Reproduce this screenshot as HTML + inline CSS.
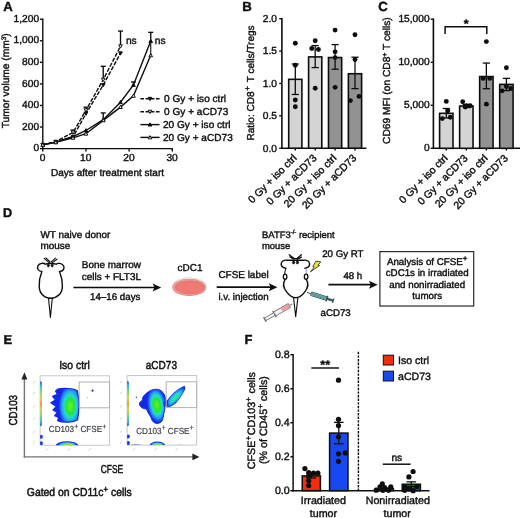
<!DOCTYPE html>
<html lang="en"><head><meta charset="utf-8"><title>Figure</title>
<style>
html,body{margin:0;padding:0;background:#fff;}
svg{display:block;font-family:"Liberation Sans",sans-serif;text-rendering:geometricPrecision;}
text{stroke:#0f0f0f;stroke-width:0.4px;paint-order:stroke;}
</style></head><body>
<svg width="520" height="518" viewBox="0 0 520 518">
<defs><filter id="soft" x="0" y="0" width="520" height="518" filterUnits="userSpaceOnUse"><feGaussianBlur stdDeviation="0.35"/></filter></defs>
<rect width="520" height="518" fill="#ffffff"/>
<g filter="url(#soft)">
<text x="3.20" y="10.60" font-size="13.2" text-anchor="start" font-weight="bold" fill="#0f0f0f" >A</text>
<text x="242.20" y="10.70" font-size="13.2" text-anchor="start" font-weight="bold" fill="#0f0f0f" >B</text>
<text x="378.20" y="10.60" font-size="13.2" text-anchor="start" font-weight="bold" fill="#0f0f0f" >C</text>
<text x="3.10" y="217.20" font-size="12.7" text-anchor="start" font-weight="bold" fill="#0f0f0f" >D</text>
<text x="3.50" y="344.10" font-size="12.9" text-anchor="start" font-weight="bold" fill="#0f0f0f" >E</text>
<text x="244.40" y="344.10" font-size="13.0" text-anchor="start" font-weight="bold" fill="#0f0f0f" >F</text>
<line x1="42.80" y1="18.60" x2="42.80" y2="149.20" stroke="#0f0f0f" stroke-width="1.4" />
<line x1="42.20" y1="148.60" x2="172.91" y2="148.60" stroke="#0f0f0f" stroke-width="1.4" />
<line x1="39.90" y1="148.60" x2="42.80" y2="148.60" stroke="#0f0f0f" stroke-width="1.4" />
<text x="39.10" y="151.30" font-size="10.2" text-anchor="end" font-weight="normal" fill="#0f0f0f" >0</text>
<line x1="39.90" y1="127.03" x2="42.80" y2="127.03" stroke="#0f0f0f" stroke-width="1.4" />
<text x="39.10" y="129.70" font-size="10.2" text-anchor="end" font-weight="normal" fill="#0f0f0f" >200</text>
<line x1="39.90" y1="105.47" x2="42.80" y2="105.47" stroke="#0f0f0f" stroke-width="1.4" />
<text x="39.10" y="108.10" font-size="10.2" text-anchor="end" font-weight="normal" fill="#0f0f0f" >400</text>
<line x1="39.90" y1="83.90" x2="42.80" y2="83.90" stroke="#0f0f0f" stroke-width="1.4" />
<text x="39.10" y="86.50" font-size="10.2" text-anchor="end" font-weight="normal" fill="#0f0f0f" >600</text>
<line x1="39.90" y1="62.34" x2="42.80" y2="62.34" stroke="#0f0f0f" stroke-width="1.4" />
<text x="39.10" y="64.90" font-size="10.2" text-anchor="end" font-weight="normal" fill="#0f0f0f" >800</text>
<line x1="39.90" y1="40.77" x2="42.80" y2="40.77" stroke="#0f0f0f" stroke-width="1.4" />
<text x="39.10" y="43.30" font-size="10.2" text-anchor="end" font-weight="normal" fill="#0f0f0f" >1,000</text>
<line x1="39.90" y1="19.20" x2="42.80" y2="19.20" stroke="#0f0f0f" stroke-width="1.4" />
<text x="39.10" y="21.70" font-size="10.2" text-anchor="end" font-weight="normal" fill="#0f0f0f" >1,200</text>
<line x1="42.80" y1="148.60" x2="42.80" y2="151.50" stroke="#0f0f0f" stroke-width="1.4" />
<text x="42.60" y="160.90" font-size="10.2" text-anchor="middle" font-weight="normal" fill="#0f0f0f" >0</text>
<line x1="85.97" y1="148.60" x2="85.97" y2="151.50" stroke="#0f0f0f" stroke-width="1.4" />
<text x="85.77" y="160.90" font-size="10.2" text-anchor="middle" font-weight="normal" fill="#0f0f0f" >10</text>
<line x1="129.14" y1="148.60" x2="129.14" y2="151.50" stroke="#0f0f0f" stroke-width="1.4" />
<text x="128.94" y="160.90" font-size="10.2" text-anchor="middle" font-weight="normal" fill="#0f0f0f" >20</text>
<line x1="172.31" y1="148.60" x2="172.31" y2="151.50" stroke="#0f0f0f" stroke-width="1.4" />
<text x="172.11" y="160.90" font-size="10.2" text-anchor="middle" font-weight="normal" fill="#0f0f0f" >30</text>
<text x="107.55" y="175.50" font-size="10.03" text-anchor="middle" font-weight="normal" fill="#0f0f0f" >Days after treatment start</text>
<text transform="translate(9.35,80.80) rotate(-90)" font-size="10.2" text-anchor="middle" fill="#0f0f0f" >Tumor volume (mm<tspan dx="0" dy="-3.2" font-size="6.5">3</tspan><tspan dx="0" dy="3.2" font-size="1">&#8203;</tspan>)</text>
<polyline points="42.80,144.83 55.75,141.91 73.02,136.95 85.97,113.56 103.24,84.98 120.51,53.28" fill="none" stroke="#0f0f0f" stroke-width="1.4" stroke-dasharray="4.2 1.5"/>
<polyline points="42.80,144.83 55.75,141.70 73.02,132.43 85.97,110.21 103.24,79.59 120.51,46.27" fill="none" stroke="#0f0f0f" stroke-width="1.4" stroke-dasharray="4.2 1.5"/>
<polyline points="42.80,144.83 55.75,142.13 73.02,136.52 85.97,130.48 103.24,119.70 120.51,102.23 133.46,84.98 150.73,41.09" fill="none" stroke="#0f0f0f" stroke-width="1.4" />
<polyline points="42.80,144.83 55.75,142.35 73.02,137.82 85.97,133.72 103.24,120.35 120.51,107.09 133.46,95.87 150.73,55.33" fill="none" stroke="#0f0f0f" stroke-width="1.4" />
<path d="M41.00,143.39 L44.60,143.39 L42.80,146.63 Z" fill="#0f0f0f" stroke="#0f0f0f" stroke-width="1.0"/>
<path d="M53.95,140.47 L57.55,140.47 L55.75,143.71 Z" fill="#0f0f0f" stroke="#0f0f0f" stroke-width="1.0"/>
<path d="M71.22,135.51 L74.82,135.51 L73.02,138.75 Z" fill="#0f0f0f" stroke="#0f0f0f" stroke-width="1.0"/>
<path d="M84.17,112.12 L87.77,112.12 L85.97,115.36 Z" fill="#0f0f0f" stroke="#0f0f0f" stroke-width="1.0"/>
<path d="M101.44,83.54 L105.04,83.54 L103.24,86.78 Z" fill="#0f0f0f" stroke="#0f0f0f" stroke-width="1.0"/>
<path d="M118.71,51.84 L122.31,51.84 L120.51,55.08 Z" fill="#0f0f0f" stroke="#0f0f0f" stroke-width="1.0"/>
<line x1="73.02" y1="132.43" x2="73.02" y2="130.05" stroke="#0f0f0f" stroke-width="1.35" />
<line x1="70.52" y1="130.05" x2="75.52" y2="130.05" stroke="#0f0f0f" stroke-width="1.35" />
<line x1="85.97" y1="110.21" x2="85.97" y2="107.19" stroke="#0f0f0f" stroke-width="1.35" />
<line x1="83.47" y1="107.19" x2="88.47" y2="107.19" stroke="#0f0f0f" stroke-width="1.35" />
<line x1="103.24" y1="79.59" x2="103.24" y2="66.33" stroke="#0f0f0f" stroke-width="1.35" />
<line x1="100.74" y1="66.33" x2="105.74" y2="66.33" stroke="#0f0f0f" stroke-width="1.35" />
<line x1="120.51" y1="46.27" x2="120.51" y2="31.07" stroke="#0f0f0f" stroke-width="1.35" />
<line x1="118.01" y1="31.07" x2="123.01" y2="31.07" stroke="#0f0f0f" stroke-width="1.35" />
<path d="M41.00,143.39 L44.60,143.39 L42.80,146.63 Z" fill="#fff" stroke="#0f0f0f" stroke-width="1.0"/>
<path d="M53.95,140.26 L57.55,140.26 L55.75,143.50 Z" fill="#fff" stroke="#0f0f0f" stroke-width="1.0"/>
<path d="M71.22,130.99 L74.82,130.99 L73.02,134.23 Z" fill="#fff" stroke="#0f0f0f" stroke-width="1.0"/>
<path d="M84.17,108.77 L87.77,108.77 L85.97,112.01 Z" fill="#fff" stroke="#0f0f0f" stroke-width="1.0"/>
<path d="M101.44,78.15 L105.04,78.15 L103.24,81.39 Z" fill="#fff" stroke="#0f0f0f" stroke-width="1.0"/>
<path d="M118.71,44.83 L122.31,44.83 L120.51,48.07 Z" fill="#fff" stroke="#0f0f0f" stroke-width="1.0"/>
<line x1="103.24" y1="119.70" x2="103.24" y2="112.91" stroke="#0f0f0f" stroke-width="1.35" />
<line x1="100.74" y1="112.91" x2="105.74" y2="112.91" stroke="#0f0f0f" stroke-width="1.35" />
<line x1="133.46" y1="84.98" x2="133.46" y2="81.96" stroke="#0f0f0f" stroke-width="1.35" />
<line x1="130.96" y1="81.96" x2="135.96" y2="81.96" stroke="#0f0f0f" stroke-width="1.35" />
<line x1="150.73" y1="41.09" x2="150.73" y2="32.36" stroke="#0f0f0f" stroke-width="1.35" />
<line x1="148.23" y1="32.36" x2="153.23" y2="32.36" stroke="#0f0f0f" stroke-width="1.35" />
<path d="M41.00,146.27 L44.60,146.27 L42.80,143.03 Z" fill="#0f0f0f" stroke="#0f0f0f" stroke-width="1.0"/>
<path d="M53.95,143.57 L57.55,143.57 L55.75,140.33 Z" fill="#0f0f0f" stroke="#0f0f0f" stroke-width="1.0"/>
<path d="M71.22,137.96 L74.82,137.96 L73.02,134.72 Z" fill="#0f0f0f" stroke="#0f0f0f" stroke-width="1.0"/>
<path d="M84.17,131.92 L87.77,131.92 L85.97,128.68 Z" fill="#0f0f0f" stroke="#0f0f0f" stroke-width="1.0"/>
<path d="M101.44,121.14 L105.04,121.14 L103.24,117.90 Z" fill="#0f0f0f" stroke="#0f0f0f" stroke-width="1.0"/>
<path d="M118.71,103.67 L122.31,103.67 L120.51,100.43 Z" fill="#0f0f0f" stroke="#0f0f0f" stroke-width="1.0"/>
<path d="M131.66,86.42 L135.26,86.42 L133.46,83.18 Z" fill="#0f0f0f" stroke="#0f0f0f" stroke-width="1.0"/>
<path d="M148.93,42.53 L152.53,42.53 L150.73,39.29 Z" fill="#0f0f0f" stroke="#0f0f0f" stroke-width="1.0"/>
<path d="M41.00,146.27 L44.60,146.27 L42.80,143.03 Z" fill="#fff" stroke="#0f0f0f" stroke-width="1.0"/>
<path d="M53.95,143.79 L57.55,143.79 L55.75,140.55 Z" fill="#fff" stroke="#0f0f0f" stroke-width="1.0"/>
<path d="M71.22,139.26 L74.82,139.26 L73.02,136.02 Z" fill="#fff" stroke="#0f0f0f" stroke-width="1.0"/>
<path d="M84.17,135.16 L87.77,135.16 L85.97,131.92 Z" fill="#fff" stroke="#0f0f0f" stroke-width="1.0"/>
<path d="M101.44,121.79 L105.04,121.79 L103.24,118.55 Z" fill="#fff" stroke="#0f0f0f" stroke-width="1.0"/>
<path d="M118.71,108.53 L122.31,108.53 L120.51,105.29 Z" fill="#fff" stroke="#0f0f0f" stroke-width="1.0"/>
<path d="M131.66,97.31 L135.26,97.31 L133.46,94.07 Z" fill="#fff" stroke="#0f0f0f" stroke-width="1.0"/>
<path d="M148.93,56.77 L152.53,56.77 L150.73,53.53 Z" fill="#fff" stroke="#0f0f0f" stroke-width="1.0"/>
<line x1="150.73" y1="41.09" x2="150.73" y2="55.33" stroke="#0f0f0f" stroke-width="1.1" />
<text x="125.90" y="43.70" font-size="10.2" text-anchor="start" font-weight="normal" fill="#0f0f0f" >ns</text>
<text x="154.80" y="43.70" font-size="10.2" text-anchor="start" font-weight="normal" fill="#0f0f0f" >ns</text>
<line x1="140.40" y1="98.80" x2="159.60" y2="98.80" stroke="#0f0f0f" stroke-width="1.4" stroke-dasharray="3.6 1.6"/>
<path d="M148.20,97.36 L151.80,97.36 L150.00,100.60 Z" fill="#0f0f0f" stroke="#0f0f0f" stroke-width="1.0"/>
<text x="164.10" y="102.30" font-size="10.08" text-anchor="start" font-weight="normal" fill="#0f0f0f" >0 Gy + iso ctrl</text>
<line x1="140.40" y1="111.70" x2="159.60" y2="111.70" stroke="#0f0f0f" stroke-width="1.4" stroke-dasharray="3.6 1.6"/>
<path d="M148.20,110.26 L151.80,110.26 L150.00,113.50 Z" fill="#fff" stroke="#0f0f0f" stroke-width="1.0"/>
<text x="164.10" y="115.20" font-size="10.08" text-anchor="start" font-weight="normal" fill="#0f0f0f" >0 Gy + aCD73</text>
<line x1="140.40" y1="124.60" x2="159.60" y2="124.60" stroke="#0f0f0f" stroke-width="1.4" />
<path d="M148.20,126.04 L151.80,126.04 L150.00,122.80 Z" fill="#0f0f0f" stroke="#0f0f0f" stroke-width="1.0"/>
<text x="163.00" y="128.10" font-size="10.08" text-anchor="start" font-weight="normal" fill="#0f0f0f" >20 Gy + iso ctrl</text>
<line x1="140.40" y1="137.40" x2="159.60" y2="137.40" stroke="#0f0f0f" stroke-width="1.4" />
<path d="M148.20,138.84 L151.80,138.84 L150.00,135.60 Z" fill="#fff" stroke="#0f0f0f" stroke-width="1.0"/>
<text x="163.00" y="140.90" font-size="10.08" text-anchor="start" font-weight="normal" fill="#0f0f0f" >20 Gy + aCD73</text>
<line x1="281.90" y1="18.00" x2="281.90" y2="149.00" stroke="#0f0f0f" stroke-width="1.6" />
<line x1="281.10" y1="148.20" x2="366.50" y2="148.20" stroke="#0f0f0f" stroke-width="1.6" />
<line x1="279.20" y1="148.20" x2="281.90" y2="148.20" stroke="#0f0f0f" stroke-width="1.4" />
<text x="277.00" y="151.60" font-size="10.2" text-anchor="end" font-weight="normal" fill="#0f0f0f" >0.0</text>
<line x1="279.20" y1="115.82" x2="281.90" y2="115.82" stroke="#0f0f0f" stroke-width="1.4" />
<text x="277.00" y="119.22" font-size="10.2" text-anchor="end" font-weight="normal" fill="#0f0f0f" >0.5</text>
<line x1="279.20" y1="83.45" x2="281.90" y2="83.45" stroke="#0f0f0f" stroke-width="1.4" />
<text x="277.00" y="86.85" font-size="10.2" text-anchor="end" font-weight="normal" fill="#0f0f0f" >1.0</text>
<line x1="279.20" y1="51.07" x2="281.90" y2="51.07" stroke="#0f0f0f" stroke-width="1.4" />
<text x="277.00" y="54.47" font-size="10.2" text-anchor="end" font-weight="normal" fill="#0f0f0f" >1.5</text>
<line x1="279.20" y1="18.70" x2="281.90" y2="18.70" stroke="#0f0f0f" stroke-width="1.4" />
<text x="277.00" y="22.10" font-size="10.2" text-anchor="end" font-weight="normal" fill="#0f0f0f" >2.0</text>
<rect x="288.70" y="79.31" width="13.20" height="68.89" fill="#d4d4d4" stroke="#0f0f0f" stroke-width="1.6"/>
<line x1="295.30" y1="94.46" x2="295.30" y2="64.02" stroke="#0f0f0f" stroke-width="1.3" />
<line x1="291.70" y1="94.46" x2="298.90" y2="94.46" stroke="#0f0f0f" stroke-width="1.3" />
<line x1="291.70" y1="64.02" x2="298.90" y2="64.02" stroke="#0f0f0f" stroke-width="1.3" />
<circle cx="295.30" cy="43.30" r="2.45" fill="#0f0f0f"/>
<circle cx="295.30" cy="65.32" r="2.45" fill="#0f0f0f"/>
<circle cx="295.30" cy="99.96" r="2.45" fill="#0f0f0f"/>
<circle cx="295.30" cy="106.76" r="2.45" fill="#0f0f0f"/>
<line x1="295.30" y1="148.20" x2="295.30" y2="150.40" stroke="#0f0f0f" stroke-width="1.4" />
<text transform="translate(297.40,158.70) rotate(-45)" font-size="10.4" text-anchor="end" fill="#0f0f0f" >0 Gy + iso ctrl</text>
<rect x="308.60" y="56.90" width="13.20" height="91.30" fill="#d4d4d4" stroke="#0f0f0f" stroke-width="1.6"/>
<line x1="315.20" y1="67.59" x2="315.20" y2="45.57" stroke="#0f0f0f" stroke-width="1.3" />
<line x1="311.60" y1="67.59" x2="318.80" y2="67.59" stroke="#0f0f0f" stroke-width="1.3" />
<line x1="311.60" y1="45.57" x2="318.80" y2="45.57" stroke="#0f0f0f" stroke-width="1.3" />
<circle cx="315.20" cy="40.71" r="2.45" fill="#0f0f0f"/>
<circle cx="311.80" cy="48.48" r="2.45" fill="#0f0f0f"/>
<circle cx="318.40" cy="49.46" r="2.45" fill="#0f0f0f"/>
<circle cx="315.20" cy="88.31" r="2.45" fill="#0f0f0f"/>
<line x1="315.20" y1="148.20" x2="315.20" y2="150.40" stroke="#0f0f0f" stroke-width="1.4" />
<text transform="translate(317.30,158.70) rotate(-45)" font-size="10.4" text-anchor="end" fill="#0f0f0f" >0 Gy + aCD73</text>
<rect x="328.50" y="57.55" width="13.20" height="90.65" fill="#929292" stroke="#0f0f0f" stroke-width="1.6"/>
<line x1="335.10" y1="69.20" x2="335.10" y2="44.60" stroke="#0f0f0f" stroke-width="1.3" />
<line x1="331.50" y1="69.20" x2="338.70" y2="69.20" stroke="#0f0f0f" stroke-width="1.3" />
<line x1="331.50" y1="44.60" x2="338.70" y2="44.60" stroke="#0f0f0f" stroke-width="1.3" />
<circle cx="335.10" cy="30.10" r="2.45" fill="#0f0f0f"/>
<circle cx="335.10" cy="51.85" r="2.45" fill="#0f0f0f"/>
<circle cx="335.10" cy="57.61" r="2.45" fill="#0f0f0f"/>
<circle cx="335.10" cy="87.33" r="2.45" fill="#0f0f0f"/>
<line x1="335.10" y1="148.20" x2="335.10" y2="150.40" stroke="#0f0f0f" stroke-width="1.4" />
<text transform="translate(337.20,158.70) rotate(-45)" font-size="10.4" text-anchor="end" fill="#0f0f0f" >20 Gy + iso ctrl</text>
<rect x="348.40" y="73.74" width="13.20" height="74.46" fill="#929292" stroke="#0f0f0f" stroke-width="1.6"/>
<line x1="355.00" y1="88.63" x2="355.00" y2="57.23" stroke="#0f0f0f" stroke-width="1.3" />
<line x1="351.40" y1="88.63" x2="358.60" y2="88.63" stroke="#0f0f0f" stroke-width="1.3" />
<line x1="351.40" y1="57.23" x2="358.60" y2="57.23" stroke="#0f0f0f" stroke-width="1.3" />
<circle cx="355.00" cy="34.69" r="2.45" fill="#0f0f0f"/>
<circle cx="355.00" cy="59.62" r="2.45" fill="#0f0f0f"/>
<circle cx="350.40" cy="100.61" r="2.45" fill="#0f0f0f"/>
<circle cx="359.00" cy="96.40" r="2.45" fill="#0f0f0f"/>
<line x1="355.00" y1="148.20" x2="355.00" y2="150.40" stroke="#0f0f0f" stroke-width="1.4" />
<text transform="translate(357.10,158.70) rotate(-45)" font-size="10.4" text-anchor="end" fill="#0f0f0f" >20 Gy + aCD73</text>
<text transform="translate(253.90,83.00) rotate(-90)" font-size="10.05" text-anchor="middle" fill="#0f0f0f" >Ratio: CD8<tspan dx="0.8" dy="-3.6" font-size="8">+</tspan><tspan dx="1.0" dy="3.6" font-size="1">&#8203;</tspan> T cells/Tregs</text>
<line x1="433.40" y1="18.45" x2="433.40" y2="149.10" stroke="#0f0f0f" stroke-width="1.6" />
<line x1="432.60" y1="148.30" x2="520.00" y2="148.30" stroke="#0f0f0f" stroke-width="1.6" />
<line x1="430.70" y1="148.30" x2="433.40" y2="148.30" stroke="#0f0f0f" stroke-width="1.4" />
<text x="429.60" y="151.20" font-size="10.2" text-anchor="end" font-weight="normal" fill="#0f0f0f" >0</text>
<line x1="430.70" y1="105.25" x2="433.40" y2="105.25" stroke="#0f0f0f" stroke-width="1.4" />
<text x="429.60" y="108.15" font-size="10.2" text-anchor="end" font-weight="normal" fill="#0f0f0f" >5,000</text>
<line x1="430.70" y1="62.20" x2="433.40" y2="62.20" stroke="#0f0f0f" stroke-width="1.4" />
<text x="429.60" y="65.10" font-size="10.2" text-anchor="end" font-weight="normal" fill="#0f0f0f" >10,000</text>
<line x1="430.70" y1="19.15" x2="433.40" y2="19.15" stroke="#0f0f0f" stroke-width="1.4" />
<text x="429.60" y="22.05" font-size="10.2" text-anchor="end" font-weight="normal" fill="#0f0f0f" >15,000</text>
<rect x="439.60" y="113.30" width="13.40" height="35.00" fill="#d4d4d4" stroke="#0f0f0f" stroke-width="1.6"/>
<line x1="446.30" y1="117.99" x2="446.30" y2="108.52" stroke="#0f0f0f" stroke-width="1.3" />
<line x1="442.70" y1="117.99" x2="449.90" y2="117.99" stroke="#0f0f0f" stroke-width="1.3" />
<line x1="442.70" y1="108.52" x2="449.90" y2="108.52" stroke="#0f0f0f" stroke-width="1.3" />
<circle cx="446.30" cy="101.38" r="2.45" fill="#0f0f0f"/>
<circle cx="442.30" cy="118.60" r="2.45" fill="#0f0f0f"/>
<circle cx="450.30" cy="117.30" r="2.45" fill="#0f0f0f"/>
<circle cx="447.80" cy="110.85" r="2.45" fill="#0f0f0f"/>
<line x1="446.30" y1="148.30" x2="446.30" y2="150.50" stroke="#0f0f0f" stroke-width="1.4" />
<text transform="translate(448.40,158.80) rotate(-45)" font-size="10.4" text-anchor="end" fill="#0f0f0f" >0 Gy + iso ctrl</text>
<rect x="459.63" y="106.02" width="13.40" height="42.28" fill="#d4d4d4" stroke="#0f0f0f" stroke-width="1.6"/>
<line x1="466.33" y1="107.57" x2="466.33" y2="104.48" stroke="#0f0f0f" stroke-width="1.3" />
<line x1="462.73" y1="107.57" x2="469.93" y2="107.57" stroke="#0f0f0f" stroke-width="1.3" />
<line x1="462.73" y1="104.48" x2="469.93" y2="104.48" stroke="#0f0f0f" stroke-width="1.3" />
<circle cx="462.73" cy="101.81" r="2.45" fill="#0f0f0f"/>
<circle cx="466.33" cy="105.68" r="2.45" fill="#0f0f0f"/>
<circle cx="470.13" cy="105.68" r="2.45" fill="#0f0f0f"/>
<circle cx="465.33" cy="106.97" r="2.45" fill="#0f0f0f"/>
<line x1="466.33" y1="148.30" x2="466.33" y2="150.50" stroke="#0f0f0f" stroke-width="1.4" />
<text transform="translate(468.43,158.80) rotate(-45)" font-size="10.4" text-anchor="end" fill="#0f0f0f" >0 Gy + aCD73</text>
<rect x="479.66" y="76.58" width="13.40" height="71.72" fill="#929292" stroke="#0f0f0f" stroke-width="1.6"/>
<line x1="486.36" y1="88.72" x2="486.36" y2="63.06" stroke="#0f0f0f" stroke-width="1.3" />
<line x1="482.76" y1="88.72" x2="489.96" y2="88.72" stroke="#0f0f0f" stroke-width="1.3" />
<line x1="482.76" y1="63.06" x2="489.96" y2="63.06" stroke="#0f0f0f" stroke-width="1.3" />
<circle cx="486.36" cy="41.62" r="2.45" fill="#0f0f0f"/>
<circle cx="483.16" cy="78.39" r="2.45" fill="#0f0f0f"/>
<circle cx="489.76" cy="78.39" r="2.45" fill="#0f0f0f"/>
<circle cx="486.36" cy="104.13" r="2.45" fill="#0f0f0f"/>
<line x1="486.36" y1="148.30" x2="486.36" y2="150.50" stroke="#0f0f0f" stroke-width="1.4" />
<text transform="translate(488.46,158.80) rotate(-45)" font-size="10.4" text-anchor="end" fill="#0f0f0f" >20 Gy + iso ctrl</text>
<rect x="499.69" y="84.41" width="13.40" height="63.89" fill="#929292" stroke="#0f0f0f" stroke-width="1.6"/>
<line x1="506.39" y1="90.61" x2="506.39" y2="78.39" stroke="#0f0f0f" stroke-width="1.3" />
<line x1="502.79" y1="90.61" x2="509.99" y2="90.61" stroke="#0f0f0f" stroke-width="1.3" />
<line x1="502.79" y1="78.39" x2="509.99" y2="78.39" stroke="#0f0f0f" stroke-width="1.3" />
<circle cx="506.39" cy="67.71" r="2.45" fill="#0f0f0f"/>
<circle cx="502.09" cy="90.87" r="2.45" fill="#0f0f0f"/>
<circle cx="510.79" cy="88.46" r="2.45" fill="#0f0f0f"/>
<circle cx="506.39" cy="86.48" r="2.45" fill="#0f0f0f"/>
<line x1="506.39" y1="148.30" x2="506.39" y2="150.50" stroke="#0f0f0f" stroke-width="1.4" />
<text transform="translate(508.49,158.80) rotate(-45)" font-size="10.4" text-anchor="end" fill="#0f0f0f" >20 Gy + aCD73</text>
<text transform="translate(389.90,80.60) rotate(-90)" font-size="10.2" text-anchor="middle" fill="#0f0f0f" >CD69 MFI (on CD8<tspan dx="0" dy="-3.2" font-size="7">+</tspan><tspan dx="0" dy="3.2" font-size="1">&#8203;</tspan> T cells)</text>
<path d="M445.1,34 V26.7 H486.8 V34" fill="none" stroke="#0f0f0f" stroke-width="1.5"/>
<text x="466.20" y="27.50" font-size="12.5" text-anchor="middle" font-weight="bold" fill="#0f0f0f" >*</text>
<text x="40.40" y="237.70" font-size="9.95" text-anchor="start" font-weight="normal" fill="#0f0f0f" >WT naive donor</text>
<text x="40.40" y="249.30" font-size="9.95" text-anchor="start" font-weight="normal" fill="#0f0f0f" >mouse</text>
<text x="81.80" y="267.90" font-size="9.95" text-anchor="start" font-weight="normal" fill="#0f0f0f" >Bone marrow</text>
<text x="81.80" y="279.80" font-size="9.95" text-anchor="start" font-weight="normal" fill="#0f0f0f" >cells + FLT3L</text>
<text x="90.00" y="299.80" font-size="9.75" text-anchor="start" font-weight="normal" fill="#0f0f0f" >14&#8211;16 days</text>
<text x="190.00" y="271.20" font-size="9.95" text-anchor="middle" font-weight="normal" fill="#0f0f0f" >cDC1</text>
<text x="218.40" y="278.30" font-size="9.95" text-anchor="start" font-weight="normal" fill="#0f0f0f" >CFSE label</text>
<text x="218.40" y="299.70" font-size="9.75" text-anchor="start" font-weight="normal" fill="#0f0f0f" >i.v. injection</text>
<text x="262.00" y="237.60" font-size="9.45" text-anchor="start" font-weight="normal" fill="#0f0f0f" >BATF3<tspan dx="0" dy="-3.6" font-size="6">-/-</tspan><tspan dx="0" dy="3.6" font-size="1">&#8203;</tspan> recipient</text>
<text x="262.00" y="249.10" font-size="9.45" text-anchor="start" font-weight="normal" fill="#0f0f0f" >mouse</text>
<text x="322.20" y="257.20" font-size="9.7" text-anchor="start" font-weight="normal" fill="#0f0f0f" >20 Gy RT</text>
<text x="343.40" y="278.60" font-size="9.7" text-anchor="start" font-weight="normal" fill="#0f0f0f" >48 h</text>
<text x="320.60" y="315.70" font-size="9.7" text-anchor="start" font-weight="normal" fill="#0f0f0f" >aCD73</text>
<line x1="73.40" y1="287.50" x2="156.20" y2="287.50" stroke="#0f0f0f" stroke-width="1.7" />
<path d="M161.20,287.50 L152.60,283.50 L154.40,287.50 L152.60,291.50 Z" fill="#0f0f0f"/>
<line x1="216.70" y1="287.20" x2="272.40" y2="287.20" stroke="#0f0f0f" stroke-width="1.7" />
<path d="M277.40,287.20 L268.80,283.20 L270.60,287.20 L268.80,291.20 Z" fill="#0f0f0f"/>
<line x1="328.40" y1="284.70" x2="372.60" y2="284.70" stroke="#0f0f0f" stroke-width="1.7" />
<path d="M377.60,284.70 L369.00,280.70 L370.80,284.70 L369.00,288.70 Z" fill="#0f0f0f"/>
<rect x="379.9" y="251.6" width="93.8" height="54.4" fill="#fff" stroke="#2a2a2a" stroke-width="1.2"/>
<text x="427.20" y="264.60" font-size="9.75" text-anchor="middle" font-weight="normal" fill="#0f0f0f" >Analysis of CFSE<tspan dx="0" dy="-4" font-size="8">+</tspan><tspan dx="0" dy="4" font-size="1">&#8203;</tspan></text>
<text x="427.20" y="276.20" font-size="9.75" text-anchor="middle" font-weight="normal" fill="#0f0f0f" >cDC1s in irradiated</text>
<text x="427.20" y="287.80" font-size="9.75" text-anchor="middle" font-weight="normal" fill="#0f0f0f" >and nonirradiated</text>
<text x="427.20" y="299.30" font-size="9.75" text-anchor="middle" font-weight="normal" fill="#0f0f0f" >tumors</text>
<ellipse cx="189.3" cy="285.9" rx="17.2" ry="9.0" fill="#dfe9e4"/>
<ellipse cx="189.3" cy="287.6" rx="16.8" ry="8.5" fill="#d87674"/>
<ellipse cx="189.3" cy="287.2" rx="16.7" ry="8.2" fill="#ec9a96"/>
<ellipse cx="189.8" cy="287.3" rx="14.4" ry="6.3" fill="#f07a72" stroke="#dc6c69" stroke-width="0.7"/>
<g fill="#fff" stroke="#0f0f0f" stroke-width="1.4" stroke-linejoin="round" stroke-linecap="round">
<path d="M48.5,298 L50.4,317.4 L52.3,298 Z" stroke-width="1.1"/>
<path d="M45.3,264.2 C44,262.7 39.6,262.9 38,265.6 C36.6,268.4 38.6,271.5 41.9,271.4 C40.4,275 39,281 39.2,286.4 C39.4,293.6 44.4,298.2 50.7,298.2 C57,298.2 62.2,293.6 62.4,286.4 C62.6,281 61,275 59.5,271.4 C62.8,271.6 65,268.6 63.6,265.8 C62,263 57.6,262.8 56.2,264.2 C54,263.3 47.6,263.3 45.3,264.2 Z"/>
<path d="M44.2,258.4 L49.4,262.9 M45.9,257.8 L50.1,261.9 M57,259.2 L52.1,262.9 M55.4,258.1 L51.3,261.9" fill="none" stroke-width="1.1"/>
<ellipse cx="48.3" cy="265.6" rx="0.95" ry="1.5" fill="#0f0f0f" stroke-width="0.6"/><ellipse cx="52.1" cy="265.6" rx="0.95" ry="1.5" fill="#0f0f0f" stroke-width="0.6"/>
</g>
<g fill="#fff" stroke="#0f0f0f" stroke-width="1.4" stroke-linejoin="round" stroke-linecap="round">
<path d="M293.5,297.4 L295.7,316.6 L297.9,297.4 Z" stroke-width="1.1"/>
<path d="M285.2,279.4 C282.6,283 283.4,288 287,292.4 C289.4,295.6 292.6,297.8 295.7,297.8 C298.8,297.8 302,295.6 304.4,292.4 C308,288 308.8,283 306.2,279.4 L306,274 L285.4,274 Z" stroke="none"/>
<path d="M285.2,279.4 C282.6,283 283.4,288 287,292.4 C289.4,295.6 292.6,297.8 295.7,297.8 C298.8,297.8 302,295.6 304.4,292.4 C308,288 308.8,283 306.2,279.4" fill="none"/>
<path d="M285.8,268.3 C282.4,267.8 281.1,266 281.2,263.8 C281.3,261.4 283.8,259.9 286.8,260.2 L304,260.2 C307,259.9 309.5,261.4 309.6,263.8 C309.7,266 308.4,267.8 305,268.3" fill="none"/>
<path d="M285.6,268.8 L284.7,273.6" fill="none" stroke-width="1.0"/>
<path d="M306,268.6 L306.3,273.4" fill="none" stroke="#8088c4" stroke-width="0.9"/>
<ellipse cx="285.1" cy="276.7" rx="1.75" ry="2.55" stroke-width="1.3"/><ellipse cx="306.1" cy="276.7" rx="1.75" ry="2.55" stroke-width="1.3"/>
<path d="M289.2,254.7 L293.9,258.2 M289.9,256.9 L293.9,259.3 M301.4,254.7 L297.3,258.2 M301.4,257.1 L297.3,259.3 M293.6,258.6 L297.6,258.6" fill="none" stroke-width="1.2"/>
<ellipse cx="293.6" cy="262.4" rx="1.1" ry="1.6" fill="#0f0f0f" stroke-width="0.6"/><ellipse cx="297.4" cy="262.4" rx="1.1" ry="1.6" fill="#0f0f0f" stroke-width="0.6"/>
</g>
<path d="M315.9,261.1 L320.9,261.9 L318,265.1 L319.6,265.5 L310.5,271.9 L314.2,266.9 L312.8,266.5 Z" fill="#e9dc3a" stroke="#2a2a20" stroke-width="0.8" stroke-linejoin="round"/>
<g transform="translate(306.9,292.4) rotate(17.4)">
<line x1="0" y1="0" x2="4.5" y2="0" stroke="#3a5558" stroke-width="0.9"/>
<rect x="4.5" y="-1.8" width="16.5" height="3.6" fill="#f2f2f2" stroke="#3a5558" stroke-width="0.9"/>
<rect x="4.9" y="-1.4" width="16.00" height="2.8" fill="#5aa0a2"/>
<line x1="21.0" y1="-3.1" x2="21.0" y2="3.1" stroke="#3a5558" stroke-width="1.2"/>
<rect x="21.0" y="-0.75" width="6.5" height="1.5" fill="#3a5558" stroke="#3a5558" stroke-width="0.8"/>
<line x1="27.5" y1="-2.2" x2="27.5" y2="2.2" stroke="#3a5558" stroke-width="1.3"/>
</g>
<g transform="translate(292.2,304.0) rotate(150.5)">
<line x1="0" y1="0" x2="3.4" y2="0" stroke="#6c6c6c" stroke-width="0.9"/>
<rect x="3.4" y="-2.25" width="17" height="4.5" fill="#f2f2f2" stroke="#6c6c6c" stroke-width="0.9"/>
<rect x="3.8" y="-1.85" width="8.50" height="3.7" fill="#f0a0a4"/>
<line x1="20.4" y1="-3.55" x2="20.4" y2="3.55" stroke="#6c6c6c" stroke-width="1.2"/>
<rect x="20.4" y="-1.45" width="11" height="2.9" fill="#f4f4f4" stroke="#6c6c6c" stroke-width="0.8"/>
<line x1="31.4" y1="-2.65" x2="31.4" y2="2.65" stroke="#6c6c6c" stroke-width="1.3"/>
</g>
<text x="59.20" y="368.80" font-size="11.5" text-anchor="start" fill="#0f0f0f" textLength="30.6" lengthAdjust="spacingAndGlyphs" style="stroke-width:0.5px">Iso ctrl</text>
<text x="145.80" y="368.80" font-size="11.5" text-anchor="start" fill="#0f0f0f" textLength="31.2" lengthAdjust="spacingAndGlyphs" style="stroke-width:0.5px">aCD73</text>
<text transform="translate(17.4,410.2) rotate(-90)" font-size="11.5" text-anchor="middle" fill="#0f0f0f" textLength="30.6" lengthAdjust="spacingAndGlyphs" style="stroke-width:0.5px">CD103</text>
<text x="100.80" y="472.60" font-size="11.5" text-anchor="start" fill="#0f0f0f" textLength="22.4" lengthAdjust="spacingAndGlyphs" style="stroke-width:0.5px">CFSE</text>
<text x="26.80" y="496.30" font-size="11.5" text-anchor="start" fill="#0f0f0f" textLength="105" lengthAdjust="spacingAndGlyphs" style="stroke-width:0.5px">Gated on CD11c<tspan dx="0" dy="-4" font-size="8.5">+</tspan><tspan dx="0" dy="4" font-size="1">&#8203;</tspan> cells</text>
<line x1="24.40" y1="376.00" x2="24.40" y2="457.60" stroke="#747474" stroke-width="1.4" />
<line x1="23.70" y1="456.90" x2="194.00" y2="456.90" stroke="#747474" stroke-width="1.4" />
<path d="M24.4,372.2 L21.4,379.4 L27.4,379.4 Z" fill="#222"/>
<path d="M199.4,456.9 L192.4,453.5 L192.4,460.3 Z" fill="#222"/>
<defs>
<filter id="b1" x="-20%" y="-20%" width="140%" height="140%"><feGaussianBlur stdDeviation="0.55"/></filter>
<filter id="b2" x="-20%" y="-20%" width="140%" height="140%"><feGaussianBlur stdDeviation="1.1"/></filter>
<linearGradient id="strip" x1="0" y1="0" x2="0" y2="1">
<stop offset="0" stop-color="#2a50e0"/><stop offset="0.1" stop-color="#2fb8e6"/><stop offset="0.24" stop-color="#7edc6a"/>
<stop offset="0.38" stop-color="#d8d04a"/><stop offset="0.5" stop-color="#e89a3c"/><stop offset="0.62" stop-color="#d8d04a"/>
<stop offset="0.76" stop-color="#7edc6a"/><stop offset="0.9" stop-color="#2fb8e6"/><stop offset="1" stop-color="#2a50e0"/>
</linearGradient>
<radialGradient id="g1" gradientUnits="userSpaceOnUse" cx="0" cy="0" r="1" gradientTransform="translate(70.2,406.2) scale(11.5,21)">
<stop offset="0" stop-color="#7af01c"/><stop offset="0.36" stop-color="#22e636"/><stop offset="0.54" stop-color="#22dcd0"/><stop offset="0.74" stop-color="#22a0f2"/><stop offset="0.92" stop-color="#1c50f0"/><stop offset="1" stop-color="#1426e6"/></radialGradient>
<radialGradient id="g2" gradientUnits="userSpaceOnUse" cx="0" cy="0" r="1" gradientTransform="translate(156.8,405) rotate(-8) scale(9.5,18)">
<stop offset="0" stop-color="#6cf01c"/><stop offset="0.36" stop-color="#22e636"/><stop offset="0.54" stop-color="#22dcc8"/><stop offset="0.7" stop-color="#22a8f2"/><stop offset="0.86" stop-color="#1c5cf0"/><stop offset="1" stop-color="#1426e6"/></radialGradient>
<radialGradient id="g3" gradientUnits="userSpaceOnUse" cx="0" cy="0" r="1" gradientTransform="translate(175.2,397.4) rotate(-46) scale(13.5,4.6)">
<stop offset="0" stop-color="#30e870"/><stop offset="0.4" stop-color="#22dcc8"/><stop offset="0.65" stop-color="#22a8f2"/><stop offset="0.85" stop-color="#1c5cf0"/><stop offset="1" stop-color="#1426e6"/></radialGradient>
<clipPath id="cp1"><rect x="40.1" y="375.8" width="69.5" height="69.4"/></clipPath>
<clipPath id="cp2"><rect x="127.1" y="375.6" width="69.6" height="69.5"/></clipPath>
</defs>
<rect x="40.1" y="375.8" width="69.5" height="69.4" fill="#fff" stroke="#c0c0c0" stroke-width="0.9"/>
<g clip-path="url(#cp1)">
<rect x="38.6" y="381.3" width="3.4" height="45" rx="1.7" fill="url(#strip)" filter="url(#b1)"/>
<ellipse cx="41.300000000000004" cy="436.8" rx="1.6" ry="2" fill="#1b3fe0"/>
<ellipse cx="41.300000000000004" cy="443.3" rx="1.6" ry="2" fill="#1b3fe0"/>
<g filter="url(#b1)">
<path d="M57.5,389.2 C63,387.8 74,388.2 77.2,390.6 C79.4,397 79.2,412 77.6,419.8 C73,422.8 62,422.8 57.6,420.6 L58.6,417.4 L54.6,415.8 L57.4,412.4 L53,410 L56.4,406.4 L50.8,402.8 L55.4,400 L52.6,396.4 L57.4,394.2 L55.6,391.2 Z" fill="url(#g1)" stroke="#1428e6" stroke-width="1.2" stroke-linejoin="round"/>
</g>
<g filter="url(#b1)"><ellipse cx="67" cy="445.6" rx="11.4" ry="4.4" fill="#1733e4"/><ellipse cx="67.4" cy="445.2" rx="8.4" ry="3" fill="#25c0e8"/><ellipse cx="68" cy="444.8" rx="5.4" ry="1.9" fill="#8be040"/></g>
<circle cx="92.50" cy="390.70" r="1.1" fill="#1a2a9a"/>
<circle cx="87.20" cy="397.70" r="0.6" fill="#b8b884"/>
</g>
<rect x="79.2" y="382.0" width="30.4" height="25.8" fill="none" stroke="#b2b2b2" stroke-width="1"/>
<path d="M32.9,383.1 l1.6,-1.2 l0.8,-0.8" stroke="#c6c6c6" stroke-width="0.9" fill="none"/>
<path d="M32.9,394.0 l1.6,-1.2 l0.8,-0.8" stroke="#c6c6c6" stroke-width="0.9" fill="none"/>
<path d="M32.9,407.5 l1.6,-1.2 l0.8,-0.8" stroke="#c6c6c6" stroke-width="0.9" fill="none"/>
<path d="M32.9,419.7 l1.6,-1.2 l0.8,-0.8" stroke="#c6c6c6" stroke-width="0.9" fill="none"/>
<path d="M32.9,432.7 l1.6,-1.2 l0.8,-0.8" stroke="#c6c6c6" stroke-width="0.9" fill="none"/>
<path d="M32.9,443.5 l1.6,-1.2 l0.8,-0.8" stroke="#c6c6c6" stroke-width="0.9" fill="none"/>
<path d="M45.8,450.4 l1.6,-1.2 l0.8,-0.8" stroke="#c6c6c6" stroke-width="0.9" fill="none"/>
<path d="M67.5,450.4 l1.6,-1.2 l0.8,-0.8" stroke="#c6c6c6" stroke-width="0.9" fill="none"/>
<path d="M88.5,450.4 l1.6,-1.2 l0.8,-0.8" stroke="#c6c6c6" stroke-width="0.9" fill="none"/>
<rect x="127.1" y="375.6" width="69.6" height="69.5" fill="#fff" stroke="#c0c0c0" stroke-width="0.9"/>
<g clip-path="url(#cp2)">
<rect x="125.6" y="381.1" width="3.4" height="45" rx="1.7" fill="url(#strip)" filter="url(#b1)"/>
<ellipse cx="128.29999999999998" cy="436.6" rx="1.6" ry="2" fill="#1b3fe0"/>
<ellipse cx="128.29999999999998" cy="443.1" rx="1.6" ry="2" fill="#1b3fe0"/>
<g filter="url(#b1)">
<path d="M155.6,389.2 C158,389 161,390 163,392.6 C165.4,395.6 165.8,399 165.4,402 C165.2,406 164.6,411 163.6,415 C163,418.6 162.6,421 160.6,422.4 C158.6,423.8 155,423.8 153.4,422 C151.6,420.4 151.4,417.6 149.8,415.4 C148.4,413.4 147.4,411.6 146.6,409.2 C145,408.8 142.4,408.6 140.6,406.6 C139.2,405 139,403.2 140.4,401.8 C141.4,401 142.4,400.6 142.4,399.4 C142.4,396.8 144.6,394.6 147,392.8 C149.6,390.8 152.6,389.4 155.6,389.2 Z" fill="url(#g2)" stroke="#1428e6" stroke-width="1.0"/>
<path d="M166.2,406.4 C164.4,403.4 168,398.4 171.2,395.2 C174.6,391.8 179,388.2 182.4,386.8 C184.8,386 186,387.8 185,389.8 C183,393.8 180.2,398.4 177.2,401.8 C174.4,405 169,408.8 166.2,406.4 Z" fill="url(#g3)"/>
<path d="M163,402 L168,400 L168.4,405 L164,407 Z" fill="#1838e8"/>
</g>
<circle cx="184.20" cy="386.60" r="0.9" fill="#2746d8"/>
<circle cx="136.40" cy="397.20" r="0.8" fill="#2746d8"/>
<g filter="url(#b1)"><ellipse cx="157.4" cy="445.4" rx="7.8" ry="3.8" fill="#1733e4"/><ellipse cx="157.4" cy="445.2" rx="6" ry="2.6" fill="#25c0e8"/><ellipse cx="157.4" cy="444.9" rx="4" ry="1.6" fill="#8be040"/></g>
<g filter="url(#b1)"><ellipse cx="136" cy="446" rx="6" ry="1.6" fill="#2c55d8"/><ellipse cx="180" cy="446" rx="5" ry="1.2" fill="#6c8ce0"/></g>
</g>
<rect x="166.2" y="381.8" width="30.5" height="25.8" fill="none" stroke="#b2b2b2" stroke-width="1"/>
<path d="M119.9,382.9 l1.6,-1.2 l0.8,-0.8" stroke="#c6c6c6" stroke-width="0.9" fill="none"/>
<path d="M119.9,393.8 l1.6,-1.2 l0.8,-0.8" stroke="#c6c6c6" stroke-width="0.9" fill="none"/>
<path d="M119.9,407.3 l1.6,-1.2 l0.8,-0.8" stroke="#c6c6c6" stroke-width="0.9" fill="none"/>
<path d="M119.9,419.5 l1.6,-1.2 l0.8,-0.8" stroke="#c6c6c6" stroke-width="0.9" fill="none"/>
<path d="M119.9,432.5 l1.6,-1.2 l0.8,-0.8" stroke="#c6c6c6" stroke-width="0.9" fill="none"/>
<path d="M119.9,443.3 l1.6,-1.2 l0.8,-0.8" stroke="#c6c6c6" stroke-width="0.9" fill="none"/>
<path d="M132.8,450.3 l1.6,-1.2 l0.8,-0.8" stroke="#c6c6c6" stroke-width="0.9" fill="none"/>
<path d="M154.5,450.3 l1.6,-1.2 l0.8,-0.8" stroke="#c6c6c6" stroke-width="0.9" fill="none"/>
<path d="M175.5,450.3 l1.6,-1.2 l0.8,-0.8" stroke="#c6c6c6" stroke-width="0.9" fill="none"/>
<text x="48.80" y="432.20" font-size="8.8" text-anchor="start" fill="#33373f" textLength="57.4" lengthAdjust="spacingAndGlyphs" style="stroke:#33373f;stroke-width:0.15px">CD103<tspan dx="0" dy="-3.6" font-size="7.5">+</tspan><tspan dx="0" dy="3.6" font-size="1">&#8203;</tspan> CFSE<tspan dx="0" dy="-3.6" font-size="7.5">+</tspan><tspan dx="0" dy="3.6" font-size="1">&#8203;</tspan></text>
<text x="136.20" y="433.80" font-size="8.8" text-anchor="start" fill="#33373f" textLength="57.4" lengthAdjust="spacingAndGlyphs" style="stroke:#33373f;stroke-width:0.15px">CD103<tspan dx="0" dy="-3.6" font-size="7.5">+</tspan><tspan dx="0" dy="3.6" font-size="1">&#8203;</tspan> CFSE<tspan dx="0" dy="-3.6" font-size="7.5">+</tspan><tspan dx="0" dy="3.6" font-size="1">&#8203;</tspan></text>
<line x1="293.10" y1="354.00" x2="293.10" y2="491.40" stroke="#0f0f0f" stroke-width="1.5" />
<line x1="292.40" y1="490.70" x2="429.60" y2="490.70" stroke="#0f0f0f" stroke-width="1.5" />
<line x1="290.40" y1="490.70" x2="293.10" y2="490.70" stroke="#0f0f0f" stroke-width="1.5" />
<text x="289.70" y="494.30" font-size="10.6" text-anchor="end" font-weight="normal" fill="#0f0f0f" >0.0</text>
<line x1="290.40" y1="456.70" x2="293.10" y2="456.70" stroke="#0f0f0f" stroke-width="1.5" />
<text x="289.70" y="460.30" font-size="10.6" text-anchor="end" font-weight="normal" fill="#0f0f0f" >0.2</text>
<line x1="290.40" y1="422.70" x2="293.10" y2="422.70" stroke="#0f0f0f" stroke-width="1.5" />
<text x="289.70" y="426.30" font-size="10.6" text-anchor="end" font-weight="normal" fill="#0f0f0f" >0.4</text>
<line x1="290.40" y1="388.70" x2="293.10" y2="388.70" stroke="#0f0f0f" stroke-width="1.5" />
<text x="289.70" y="392.30" font-size="10.6" text-anchor="end" font-weight="normal" fill="#0f0f0f" >0.6</text>
<line x1="290.40" y1="354.70" x2="293.10" y2="354.70" stroke="#0f0f0f" stroke-width="1.5" />
<text x="289.70" y="358.30" font-size="10.6" text-anchor="end" font-weight="normal" fill="#0f0f0f" >0.8</text>
<rect x="302.20" y="475.91" width="18.20" height="14.79" fill="#f42e0e" stroke="#0f0f0f" stroke-width="1.5"/>
<line x1="311.30" y1="477.95" x2="311.30" y2="473.87" stroke="#0f0f0f" stroke-width="1.3" />
<line x1="306.50" y1="477.95" x2="316.10" y2="477.95" stroke="#0f0f0f" stroke-width="1.3" />
<line x1="306.50" y1="473.87" x2="316.10" y2="473.87" stroke="#0f0f0f" stroke-width="1.3" />
<circle cx="304.90" cy="468.60" r="2.6" fill="#0f0f0f"/>
<circle cx="308.70" cy="472.68" r="2.6" fill="#0f0f0f"/>
<circle cx="313.50" cy="473.19" r="2.6" fill="#0f0f0f"/>
<circle cx="317.90" cy="473.19" r="2.6" fill="#0f0f0f"/>
<circle cx="308.70" cy="476.25" r="2.6" fill="#0f0f0f"/>
<circle cx="308.70" cy="480.84" r="2.6" fill="#0f0f0f"/>
<circle cx="308.70" cy="485.60" r="2.6" fill="#0f0f0f"/>
<rect x="329.60" y="433.07" width="18.40" height="57.63" fill="#1848f2" stroke="#0f0f0f" stroke-width="1.5"/>
<line x1="338.80" y1="443.78" x2="338.80" y2="422.36" stroke="#0f0f0f" stroke-width="1.3" />
<line x1="334.00" y1="443.78" x2="343.60" y2="443.78" stroke="#0f0f0f" stroke-width="1.3" />
<line x1="334.00" y1="422.36" x2="343.60" y2="422.36" stroke="#0f0f0f" stroke-width="1.3" />
<circle cx="338.50" cy="380.20" r="2.6" fill="#0f0f0f"/>
<circle cx="338.50" cy="419.30" r="2.6" fill="#0f0f0f"/>
<circle cx="338.50" cy="425.59" r="2.6" fill="#0f0f0f"/>
<circle cx="338.50" cy="436.81" r="2.6" fill="#0f0f0f"/>
<circle cx="338.50" cy="453.81" r="2.6" fill="#0f0f0f"/>
<circle cx="345.20" cy="452.96" r="2.6" fill="#0f0f0f"/>
<circle cx="338.50" cy="461.29" r="2.6" fill="#0f0f0f"/>
<rect x="375.80" y="488.66" width="17.60" height="2.04" fill="#f42e0e" stroke="#0f0f0f" stroke-width="1.5"/>
<line x1="384.60" y1="489.34" x2="384.60" y2="487.98" stroke="#0f0f0f" stroke-width="1.3" />
<line x1="379.80" y1="489.34" x2="389.40" y2="489.34" stroke="#0f0f0f" stroke-width="1.3" />
<line x1="379.80" y1="487.98" x2="389.40" y2="487.98" stroke="#0f0f0f" stroke-width="1.3" />
<circle cx="376.20" cy="490.19" r="2.6" fill="#0f0f0f"/>
<circle cx="380.00" cy="486.96" r="2.6" fill="#0f0f0f"/>
<circle cx="382.30" cy="483.90" r="2.6" fill="#0f0f0f"/>
<circle cx="384.60" cy="487.64" r="2.6" fill="#0f0f0f"/>
<circle cx="388.50" cy="490.19" r="2.6" fill="#0f0f0f"/>
<circle cx="390.80" cy="486.96" r="2.6" fill="#0f0f0f"/>
<circle cx="383.00" cy="490.36" r="2.6" fill="#0f0f0f"/>
<rect x="402.20" y="484.24" width="18.20" height="6.46" fill="#1848f2" stroke="#0f0f0f" stroke-width="1.5"/>
<line x1="411.30" y1="486.62" x2="411.30" y2="481.86" stroke="#0f0f0f" stroke-width="1.3" />
<line x1="406.50" y1="486.62" x2="416.10" y2="486.62" stroke="#0f0f0f" stroke-width="1.3" />
<line x1="406.50" y1="481.86" x2="416.10" y2="481.86" stroke="#0f0f0f" stroke-width="1.3" />
<circle cx="408.90" cy="476.93" r="2.6" fill="#0f0f0f"/>
<circle cx="413.10" cy="471.49" r="2.6" fill="#0f0f0f"/>
<circle cx="404.70" cy="486.96" r="2.6" fill="#0f0f0f"/>
<circle cx="404.70" cy="490.36" r="2.6" fill="#0f0f0f"/>
<circle cx="413.10" cy="490.70" r="2.6" fill="#0f0f0f"/>
<circle cx="416.90" cy="486.62" r="2.6" fill="#0f0f0f"/>
<circle cx="409.30" cy="488.66" r="2.6" fill="#0f0f0f"/>
<line x1="358.40" y1="351.80" x2="358.40" y2="490.70" stroke="#0f0f0f" stroke-width="1.4" stroke-dasharray="2.4 1.2"/>
<line x1="311.30" y1="368.00" x2="339.00" y2="368.00" stroke="#0f0f0f" stroke-width="1.5" />
<text x="325.20" y="368.60" font-size="12.5" text-anchor="middle" font-weight="bold" fill="#0f0f0f" >**</text>
<line x1="382.80" y1="464.20" x2="410.60" y2="464.20" stroke="#0f0f0f" stroke-width="1.5" />
<text x="396.80" y="461.20" font-size="10.2" text-anchor="middle" font-weight="normal" fill="#0f0f0f" >ns</text>
<text x="323.40" y="504.10" font-size="10.7" text-anchor="middle" font-weight="normal" fill="#0f0f0f" >Irradiated</text>
<text x="323.40" y="517.20" font-size="10.7" text-anchor="middle" font-weight="normal" fill="#0f0f0f" >tumor</text>
<text x="397.80" y="504.10" font-size="10.7" text-anchor="middle" font-weight="normal" fill="#0f0f0f" >Nonirradiated</text>
<text x="397.20" y="517.20" font-size="10.7" text-anchor="middle" font-weight="normal" fill="#0f0f0f" >tumor</text>
<rect x="383.3" y="355.2" width="10.2" height="9.8" fill="#f42e0e" stroke="#0f0f0f" stroke-width="1"/>
<rect x="383.3" y="371.2" width="10.2" height="9.8" fill="#1848f2" stroke="#0f0f0f" stroke-width="1"/>
<text x="398.00" y="364.30" font-size="10.6" text-anchor="start" font-weight="normal" fill="#0f0f0f" >Iso ctrl</text>
<text x="398.00" y="380.20" font-size="10.6" text-anchor="start" font-weight="normal" fill="#0f0f0f" >aCD73</text>
<text transform="translate(254.70,420.60) rotate(-90)" font-size="10.7" text-anchor="middle" fill="#0f0f0f" >CFSE<tspan dx="0.2" dy="-3.8" font-size="8">+</tspan><tspan dx="0.6" dy="3.8" font-size="1">&#8203;</tspan>CD103<tspan dx="0.2" dy="-3.8" font-size="8">+</tspan><tspan dx="0.6" dy="3.8" font-size="1">&#8203;</tspan> cells</text>
<text transform="translate(267.20,420.10) rotate(-90)" font-size="10.7" text-anchor="middle" fill="#0f0f0f" >(% of CD45<tspan dx="0" dy="-3.8" font-size="8">+</tspan><tspan dx="0" dy="3.8" font-size="1">&#8203;</tspan> cells)</text>
</g>
</svg>
</body></html>
